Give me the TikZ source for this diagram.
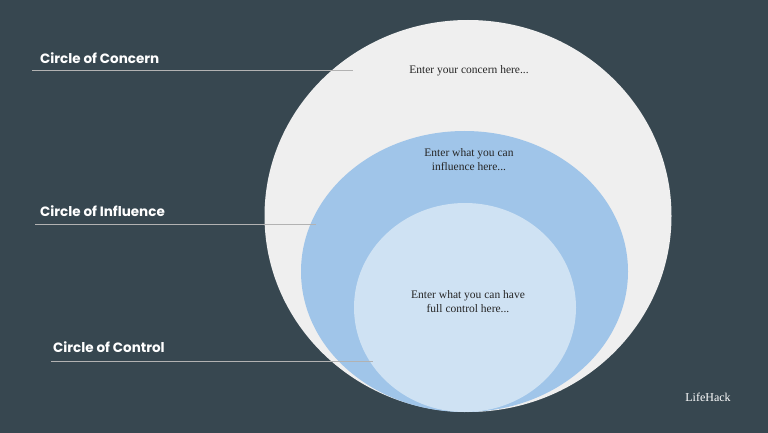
\documentclass[tikz,border=0pt]{standalone}
\usepackage{fontspec}
\setmainfont{Liberation Serif}
\newfontfamily\pop{Poppins}
\definecolor{bgc}{RGB}{55,71,80}
\definecolor{outc}{RGB}{239,239,239}
\definecolor{midc}{RGB}{160,197,233}
\definecolor{inc}{RGB}{207,226,243}
\begin{document}
\begin{tikzpicture}[x=1pt,y=-1pt,
  lbl/.style={font=\pop\bfseries\fontsize{13.5}{15}\selectfont,text=white,anchor=west,inner sep=0},
  guide/.style={draw=gray!60,line width=0.6pt},
  body/.style={font=\fontsize{11.5}{14}\selectfont,text=black!85,align=center}]
\fill[bgc] (0,0) rectangle (768,433);
\useasboundingbox (0,0) rectangle (768,433);
\fill[outc] (468,216) ellipse [x radius=203.5, y radius=196];
\fill[midc] (464.5,271.5) ellipse [x radius=163.5, y radius=140.5];
\fill[inc] (465,307.5) ellipse [x radius=111, y radius=104.5];
\node[lbl] (c1) at (40,58) {Circle of Concern};
\coordinate (c1a) at (32,70); \coordinate (c1b) at (353,70);
\draw[guide] (c1a) -- (c1b);
\node[lbl] (c2) at (40,211) {Circle of Influence};
\coordinate (c2a) at (35,224); \coordinate (c2b) at (316,224);
\draw[guide] (c2a) -- (c2b);
\node[lbl] (c3) at (53,347) {Circle of Control};
\coordinate (c3a) at (51,361); \coordinate (c3b) at (373,361);
\draw[guide] (c3a) -- (c3b);
\node[body] (t1) at (469,71) {Enter your concern here...};
\node[body] (t2) at (469,160) {Enter what you can\\influence here...};
\node[body] (t3) at (468,302) {Enter what you can have\\full control here...};
\node[font=\fontsize{12}{14}\selectfont,text=white!85] (lh) at (708,397) {LifeHack};
\end{tikzpicture}
\end{document}
